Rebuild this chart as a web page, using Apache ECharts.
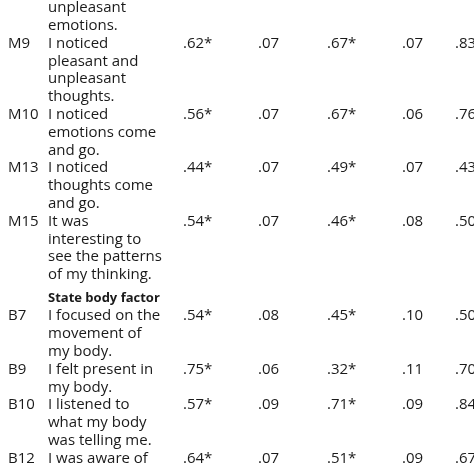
<!DOCTYPE html>
<html><head><meta charset="utf-8">
<script src="https://cdn.jsdelivr.net/npm/echarts@6/dist/echarts.min.js"></script>
<style>html,body{margin:0;padding:0;background:#fff}#c{width:474px;height:474px}</style>
</head><body><div id="c"></div>
<script>
const leadLines = ["unpleasant", "emotions."];
const codes = ["M9", "M10", "M13", "M15", "B7", "B9", "B10", "B12"];
const itemTexts = [
  ["I noticed", "pleasant and", "unpleasant", "thoughts."],
  ["I noticed", "emotions come", "and go."],
  ["I noticed", "thoughts come", "and go."],
  ["It was", "interesting to", "see the patterns", "of my thinking."],
  ["I focused on the", "movement of", "my body."],
  ["I felt present in", "my body."],
  ["I listened to", "what my body", "was telling me."],
  ["I was aware of"]
];
const col1 = [".62*", ".56*", ".44*", ".54*", ".54*", ".75*", ".57*", ".64*"];
const col2 = [".07", ".07", ".07", ".07", ".08", ".06", ".09", ".07"];
const col3 = [".67*", ".67*", ".49*", ".46*", ".45*", ".32*", ".71*", ".51*"];
const col4 = [".07", ".06", ".07", ".08", ".10", ".11", ".09", ".09"];
const col5 = [".83", ".76", ".43", ".50", ".50", ".70", ".84", ".67"];
const sectionHeader = "State body factor";

const LH = 17.8, Y0 = 8, FONT = '15px "Open Sans", sans-serif';
const colX = [183, 258, 327, 402, 455];
const els = [];
function txt(x, y, s, font) {
  els.push({type: 'text', x: x, y: y, style: {text: s, font: font || FONT, fill: '#1a1a1a', verticalAlign: 'middle'}});
}
let line = 0;
leadLines.forEach(s => { txt(48, Y0 + line * LH, s); line++; });
codes.forEach((c, i) => {
  let off = 0;
  if (i === 4) { txt(48, 298, sectionHeader, 'bold 13px "Open Sans", sans-serif'); line += 1; }
  if (i >= 4) off = 5.5;
  const y = Y0 + line * LH + off;
  txt(8, y, c);
  [col1, col2, col3, col4, col5].forEach((col, k) => txt(colX[k], y, col[i]));
  itemTexts[i].forEach((s, j) => txt(48, y + j * LH, s));
  line += itemTexts[i].length;
});
const chart = echarts.init(document.getElementById('c'));
chart.setOption({animation: false, graphic: els});
</script></body></html>
